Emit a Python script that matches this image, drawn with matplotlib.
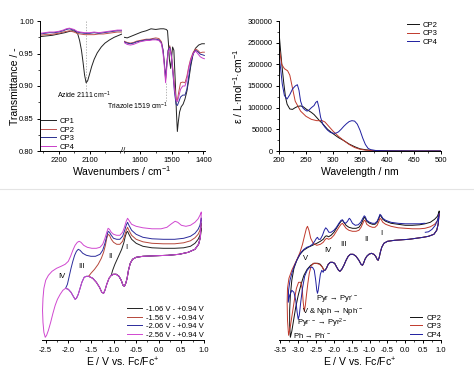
import matplotlib
matplotlib.use("Agg")
import matplotlib.pyplot as plt
from matplotlib.ticker import MultipleLocator
from matplotlib.lines import Line2D

plt.rcParams['font.family'] = ['Liberation Sans', 'DejaVu Sans']
plt.rcParams['mathtext.default'] = 'regular'
plt.rcParams['axes.linewidth'] = 0.7
plt.rcParams['xtick.major.width'] = 0.7
plt.rcParams['ytick.major.width'] = 0.7
plt.rcParams['xtick.minor.width'] = 0.5
plt.rcParams['ytick.minor.width'] = 0.5
plt.rcParams['xtick.major.size'] = 2.5
plt.rcParams['ytick.major.size'] = 2.5
plt.rcParams['xtick.minor.size'] = 1.5
plt.rcParams['ytick.minor.size'] = 1.5
plt.rcParams['xtick.labelsize'] = 5.5
plt.rcParams['ytick.labelsize'] = 5.5
plt.rcParams['xtick.major.pad'] = 2
plt.rcParams['ytick.major.pad'] = 2

# ---------------- IR data (transmittance) ----------------
ir_left_wn_cp1 = [2260, 2240, 2220, 2200, 2180, 2165, 2155, 2145, 2138, 2132, 2126, 2121, 2116, 2111,
                  2106, 2100, 2093, 2085, 2075, 2062, 2050, 2035, 2020, 2005, 1995]
ir_left_cp1 = [0.976, 0.977, 0.978, 0.980, 0.982, 0.984, 0.985, 0.984, 0.980, 0.970, 0.955, 0.937, 0.917, 0.905,
               0.908, 0.918, 0.930, 0.941, 0.951, 0.960, 0.966, 0.971, 0.975, 0.978, 0.980]

ir_left_wn = [2260, 2245, 2230, 2215, 2200, 2185, 2175, 2165, 2158, 2150, 2140, 2130, 2115, 2100,
              2085, 2070, 2055, 2040, 2025, 2010, 1995]
ir_left_cp2 = [0.978, 0.979, 0.979, 0.980, 0.981, 0.983, 0.984, 0.985, 0.984, 0.983, 0.981, 0.980, 0.979, 0.979,
               0.979, 0.980, 0.980, 0.981, 0.982, 0.983, 0.983]
ir_left_cp3 = [0.980, 0.981, 0.982, 0.982, 0.983, 0.985, 0.987, 0.988, 0.987, 0.986, 0.983, 0.982, 0.981, 0.981,
               0.982, 0.981, 0.982, 0.983, 0.984, 0.985, 0.985]
ir_left_cp4 = [0.981, 0.982, 0.983, 0.983, 0.984, 0.986, 0.988, 0.989, 0.988, 0.987, 0.984, 0.983, 0.982, 0.982,
               0.983, 0.982, 0.983, 0.984, 0.985, 0.986, 0.986]

ir_right_wn_cp1 = [1650, 1640, 1625, 1610, 1595, 1580, 1565, 1550, 1535, 1525, 1517, 1513, 1510, 1507, 1503,
                   1500, 1497, 1493, 1488, 1485, 1482, 1479, 1475, 1470, 1464, 1458, 1452, 1446, 1440, 1433,
                   1425, 1415, 1405, 1397]
ir_right_cp1 = [0.975, 0.974, 0.977, 0.980, 0.983, 0.985, 0.988, 0.987, 0.988, 0.988, 0.987, 0.985, 0.965, 0.940,
                0.927, 0.945, 0.960, 0.955, 0.900, 0.860, 0.830, 0.845, 0.860, 0.868, 0.872, 0.880, 0.892, 0.910,
                0.930, 0.948, 0.958, 0.963, 0.965, 0.965]

ir_right_wn = [1650, 1640, 1630, 1620, 1610, 1600, 1590, 1580, 1570, 1560, 1550, 1540, 1532, 1527, 1523, 1519,
               1515, 1511, 1506, 1501, 1496, 1491, 1486, 1482, 1478, 1472, 1465, 1458, 1452, 1446, 1440, 1432,
               1425, 1418, 1410, 1403, 1397]
ir_right_cp2 = [0.969, 0.967, 0.966, 0.967, 0.969, 0.970, 0.971, 0.972, 0.972, 0.973, 0.974, 0.973, 0.968, 0.955,
                0.935, 0.910, 0.935, 0.955, 0.962, 0.950, 0.925, 0.900, 0.880, 0.878, 0.890, 0.905, 0.906, 0.905,
                0.915, 0.930, 0.942, 0.952, 0.957, 0.955, 0.951, 0.952, 0.952]
ir_right_cp3 = [0.968, 0.966, 0.965, 0.966, 0.968, 0.969, 0.970, 0.971, 0.971, 0.972, 0.972, 0.971, 0.966, 0.955,
                0.935, 0.912, 0.935, 0.955, 0.960, 0.948, 0.920, 0.890, 0.872, 0.870, 0.875, 0.883, 0.886, 0.886,
                0.895, 0.915, 0.935, 0.950, 0.955, 0.953, 0.949, 0.948, 0.947]
ir_right_cp4 = [0.967, 0.964, 0.963, 0.964, 0.966, 0.968, 0.969, 0.970, 0.970, 0.971, 0.971, 0.970, 0.965, 0.950,
                0.930, 0.905, 0.930, 0.952, 0.958, 0.946, 0.922, 0.895, 0.878, 0.876, 0.883, 0.895, 0.900, 0.900,
                0.910, 0.928, 0.940, 0.950, 0.954, 0.950, 0.945, 0.943, 0.942]

# ---------------- UV-Vis data ----------------
uv_wl_cp2 = [200, 203, 206, 209, 212, 215, 220, 225, 230, 235, 240, 245, 250, 255, 260, 265, 270, 275, 280,
             285, 290, 300, 310, 320, 330, 340, 350, 360, 370, 380, 400, 450, 500]
uv_cp2 = [275000, 230000, 190000, 155000, 125000, 108000, 97000, 96000, 100000, 103000, 104000, 102000, 97000,
          93000, 89000, 84000, 77000, 70000, 64000, 57000, 50000, 40000, 31000, 24000, 16000, 10000, 5000, 3000,
          1500, 1000, 500, 0, 0]
uv_wl_cp3 = [200, 205, 210, 216, 220, 225, 230, 240, 250, 260, 270, 280, 285, 290, 300, 310, 320, 330, 340,
             350, 360, 380, 400, 500]
uv_cp3 = [240000, 200000, 190000, 185000, 175000, 145000, 115000, 92000, 80000, 73000, 70000, 70000, 67000,
          60000, 46000, 34000, 24000, 15000, 8000, 4000, 2000, 500, 0, 0]
uv_wl_cp4 = [200, 203, 206, 210, 215, 220, 225, 230, 234, 237, 240, 244, 248, 252, 256, 260, 265, 268, 271,
             274, 277, 281, 285, 290, 295, 300, 305, 310, 315, 320, 325, 330, 335, 340, 345, 350, 355, 360,
             365, 370, 380, 400, 450, 500]
uv_cp4 = [222000, 190000, 155000, 128000, 120000, 130000, 143000, 150000, 153000, 140000, 115000, 100000, 95000,
          92000, 95000, 100000, 105000, 112000, 115000, 100000, 78000, 62000, 55000, 48000, 43000, 41000, 41000,
          44000, 50000, 57000, 63000, 68000, 70000, 69000, 62000, 48000, 30000, 15000, 6000, 3000, 1000, 300,
          0, 0]

# ---------------- CV data, left panel (current in arbitrary units) ----------------
cvl_tip_I = [112, 117, 122, 128]          # right vertex for the four scans
cvl_lower_E = [0.92, 0.88, 0.80, 0.65, 0.45, 0.20, -0.10, -0.35, -0.50, -0.58, -0.63, -0.67, -0.70, -0.73,
               -0.76, -0.79, -0.83, -0.88, -0.94, -1.00, -1.05,
               -1.10, -1.15, -1.19, -1.22, -1.26, -1.31, -1.38, -1.46, -1.55,
               -1.60, -1.65, -1.70, -1.74, -1.78, -1.82, -1.85, -1.89, -1.94, -2.00, -2.06,
               -2.12, -2.18, -2.24, -2.29, -2.34, -2.39, -2.44, -2.48, -2.51]
cvl_lower_I = [103, 96, 91, 88, 86, 85, 84.5, 84, 83, 81, 77, 70, 62, 57,
               54, 55, 60, 64, 66, 66, 65,
               62, 56, 50, 47, 48, 53, 58, 62, 64,
               64, 63, 58, 52, 46, 42, 41, 44, 48, 51, 52,
               50, 46, 41, 35, 27, 18, 10, 5, 3]
cvl_vertex_n = [21, 30, 41, 50]           # points of the shared cathodic sweep used by each scan

cvl_up1_E = [-1.02, -0.97, -0.92, -0.87, -0.82, -0.77, -0.74, -0.71, -0.69, -0.66, -0.60, -0.50, -0.35, -0.15,
             0.10, 0.35, 0.55, 0.70, 0.80, 0.87, 0.91, 0.94]
cvl_up1_I = [70, 76, 81, 86, 91, 98, 104, 108, 109, 106, 101, 97, 94, 92.5,
             92, 92, 92.5, 94, 97, 101, 105, 112]
cvl_up2_E = [-1.50, -1.42, -1.34, -1.27, -1.22, -1.18, -1.15, -1.12, -1.09, -1.05, -1.00, -0.93, -0.86, -0.80,
             -0.76, -0.72, -0.69, -0.66, -0.60, -0.50, -0.35, -0.15, 0.10, 0.35, 0.55, 0.70, 0.80, 0.87, 0.91,
             0.94]
cvl_up2_I = [67, 71, 76, 82, 88, 95, 102, 106, 105, 101, 98, 96, 96, 99,
             104, 110, 113, 110, 105, 101, 98.5, 97, 96.5, 96.5, 97.5, 99.5, 102.5, 106, 110,
             117]
cvl_up3_E = [-2.02, -1.98, -1.94, -1.90, -1.86, -1.82, -1.78, -1.74, -1.68, -1.60, -1.50, -1.40, -1.30, -1.24,
             -1.19, -1.15, -1.12, -1.09, -1.05, -1.00, -0.93, -0.86, -0.80, -0.76, -0.72, -0.69, -0.66, -0.60,
             -0.50, -0.35, -0.15, 0.10, 0.35, 0.55, 0.70, 0.80, 0.87, 0.91, 0.94]
cvl_up3_I = [56, 64, 72, 79, 85, 89, 91, 90, 87, 85, 84, 84, 86, 90,
             97, 104, 109, 108, 105, 102, 101, 101, 104, 109, 115, 118, 115, 110,
             106, 103, 101.5, 101, 101, 102, 104, 107, 111, 115, 122]
cvl_up4_E = [-2.54, -2.56, -2.57, -2.56, -2.54, -2.50, -2.44, -2.36, -2.26, -2.16, -2.07, -2.00, -1.95, -1.90,
             -1.85, -1.80, -1.76, -1.72, -1.66, -1.58, -1.48, -1.38, -1.30, -1.24, -1.19, -1.15, -1.12, -1.09,
             -1.05, -1.00, -0.93, -0.86, -0.80, -0.76, -0.72, -0.69, -0.66, -0.60, -0.50, -0.35, -0.15, 0.05,
             0.18, 0.28, 0.36, 0.42, 0.50, 0.60, 0.70, 0.80, 0.87, 0.91, 0.94]
cvl_up4_I = [8, 18, 30, 42, 52, 60, 65, 69, 72, 74, 76, 79, 84, 90,
             95, 98, 99, 98, 95, 93, 92, 92, 93, 96, 102, 108, 112, 111,
             108, 106, 105, 105, 108, 113, 119, 122, 120, 116, 114, 112.5, 111.5, 111.5,
             113, 116.5, 119, 118, 115, 114, 115, 118, 121.5, 125, 128]
cvl_labels = ["-1.06 V - +0.94 V", "-1.56 V - +0.94 V", "-2.06 V - +0.94 V", "-2.56 V - +0.94 V"]

# ---------------- CV data, right panel ----------------
cvr_lower_E = [0.92, 0.88, 0.80, 0.65, 0.50, 0.30, 0.10, -0.10, -0.30, -0.50, -0.60, -0.66, -0.70, -0.73,
               -0.76, -0.79, -0.83, -0.88, -0.95, -1.02, -1.08, -1.13, -1.17, -1.20, -1.24, -1.30, -1.38,
               -1.46, -1.54, -1.60, -1.66, -1.72, -1.78, -1.83, -1.87, -1.92, -1.98, -2.04, -2.10, -2.16,
               -2.21, -2.25, -2.28]
cvr_lower_I = [116, 110, 106, 104, 103, 102, 101, 100.5, 100, 99, 97, 93, 88, 83,
               80, 81, 84, 86, 87, 86, 84, 81, 77, 75, 76, 80, 84,
               86, 86, 84, 80, 75, 71, 69, 70, 73, 77, 78, 78, 76,
               72, 70, 70]

cp2_tail_E = [-2.32, -2.38, -2.45, -2.55, -2.65, -2.75, -2.84, -2.92, -3.00, -3.07, -3.13, -3.18, -3.22,
              -3.24, -3.24, -3.22, -3.18, -3.12, -3.04, -2.95, -2.85, -2.72, -2.60, -2.48, -2.38, -2.30,
              -2.24, -2.20, -2.15, -2.08, -2.00, -1.93, -1.86, -1.80, -1.76, -1.72, -1.66, -1.58, -1.48,
              -1.38, -1.30, -1.24, -1.19, -1.15, -1.12, -1.08, -1.00, -0.92, -0.85, -0.79, -0.74, -0.71,
              -0.68, -0.63, -0.55, -0.40, -0.20, 0.00, 0.20, 0.40, 0.55, 0.70, 0.82, 0.90, 0.95]
cp2_tail_I = [73, 76, 77, 77, 75, 71, 65, 56, 45, 33, 20, 9, 3,
              15, 30, 45, 60, 72, 80, 86, 90, 93, 95, 97, 99, 101,
              104, 104.5, 103.5, 105, 108, 112, 116, 119, 120, 118, 115, 113, 112,
              112, 113, 116, 120, 123, 122, 119, 117, 116, 116, 118, 122, 125,
              124, 121, 119, 117, 116, 115, 115, 115.5, 116.5, 118, 121, 124, 129]

cp3_tail_E = [-2.32, -2.40, -2.50, -2.58, -2.64, -2.69, -2.73, -2.77, -2.80, -2.83, -2.86, -2.89, -2.93,
              -2.99, -3.05, -3.10, -3.16, -3.22, -3.27,
              -3.30, -3.31, -3.30, -3.26, -3.18, -3.10, -3.02, -2.95, -2.88, -2.82, -2.77, -2.74, -2.70,
              -2.65, -2.58, -2.48, -2.38, -2.30, -2.24, -2.20, -2.15, -2.08, -2.00, -1.93, -1.86, -1.80,
              -1.76, -1.72, -1.66, -1.58, -1.48, -1.38, -1.30, -1.24, -1.19, -1.15, -1.12, -1.08, -1.00,
              -0.92, -0.85, -0.79, -0.74, -0.71, -0.68, -0.63, -0.55, -0.40, -0.20, 0.00, 0.20, 0.40, 0.55,
              0.70, 0.82, 0.90, 0.95]
cp3_tail_I = [73, 76, 77, 77, 74, 67, 57, 45, 35, 29, 38, 52, 58,
              58, 52, 42, 28, 14, 5,
              20, 38, 52, 62, 70, 76, 82, 88, 96, 105, 112, 114, 110,
              102, 97, 95, 96, 98, 101, 102, 101, 102, 105, 109, 113, 116,
              117, 115, 112, 110, 109, 109, 110, 113, 117, 120, 119.5, 116, 114,
              113, 113, 115, 119, 122, 121, 118, 116, 114, 112.5, 112, 111.5, 111.5, 112,
              113.5, 116, 119.5, 126]

cp4_start_E = [0.56, 0.65, 0.75, 0.84, 0.90, 0.95]
cp4_start_I = [108, 108.5, 111, 115, 120, 127]
cp4_tail_E = [-2.30, -2.34, -2.38, -2.41, -2.44, -2.46, -2.48, -2.51, -2.55, -2.60, -2.68, -2.75, -2.82,
              -2.88, -2.93, -2.97, -3.00, -3.03, -3.07, -3.12, -3.18, -3.24, -3.28,
              -3.27, -3.23, -3.17, -3.09, -3.00, -2.92, -2.84, -2.76, -2.68, -2.60, -2.54, -2.49, -2.46,
              -2.43, -2.38, -2.32, -2.27, -2.23, -2.19, -2.14, -2.08, -2.00, -1.93, -1.86, -1.80, -1.76,
              -1.72, -1.67, -1.62, -1.57, -1.54, -1.48, -1.40, -1.32, -1.25, -1.19, -1.15, -1.12, -1.08,
              -1.00, -0.92, -0.85, -0.79, -0.74, -0.71, -0.68, -0.63, -0.55, -0.40, -0.20, 0.00, 0.20, 0.40,
              0.52, 0.55]
cp4_tail_I = [68, 70, 66, 58, 50, 47, 50, 60, 70, 73, 73, 70, 64,
              52, 38, 25, 21, 28, 40, 48, 50, 45, 38,
              50, 60, 68, 76, 83, 88, 91, 93, 94, 96, 99, 102, 103,
              101, 101, 105, 110, 112.5, 111, 108, 108, 110, 113, 117, 120, 120.5,
              118, 117, 119, 122, 121, 117, 115, 115.5, 118, 122, 124.5, 123.5, 120,
              118, 117, 117, 119, 123, 126, 125, 122, 120, 118, 117, 116.5, 116.5, 116.5,
              117, 117]

# ---------------- figure ----------------
fig = plt.figure(figsize=(4.74, 3.72), dpi=100)
W, H = 474.0, 372.0


def ax_px(x0, x1, ytop, ybot):
    return fig.add_axes([x0 / W, 1 - ybot / H, (x1 - x0) / W, (ybot - ytop) / H])


LW = 0.7
LEG = dict(fontsize=5.5, frameon=False, handlelength=2.0, handletextpad=0.5, labelspacing=0.15,
           borderpad=0.2, borderaxespad=0.2)

# IR: broken x axis made of two axes
ir_cols = ['#222222', '#c0504d', '#2a2f8f', '#c83fc8']
ax1 = ax_px(40, 122, 21, 151)
ax2 = ax_px(124, 205, 21, 151)
ax1.plot(ir_left_wn_cp1, ir_left_cp1, color=ir_cols[0], lw=LW)
ax1.plot(ir_left_wn, ir_left_cp2, color=ir_cols[1], lw=LW)
ax1.plot(ir_left_wn, ir_left_cp3, color=ir_cols[2], lw=LW)
ax1.plot(ir_left_wn, ir_left_cp4, color=ir_cols[3], lw=LW)
ax2.plot(ir_right_wn_cp1, ir_right_cp1, color=ir_cols[0], lw=LW)
ax2.plot(ir_right_wn, ir_right_cp2, color=ir_cols[1], lw=LW)
ax2.plot(ir_right_wn, ir_right_cp3, color=ir_cols[2], lw=LW)
ax2.plot(ir_right_wn, ir_right_cp4, color=ir_cols[3], lw=LW)
for a in (ax1, ax2):
    a.set_ylim(0.80, 1.00)
    a.spines['top'].set_visible(False)
    a.spines['right'].set_visible(False)
    a.xaxis.set_minor_locator(MultipleLocator(50))
ax1.set_xlim(2260, 1995)
ax2.set_xlim(1650, 1395)
ax1.set_xticks([2200, 2100])
ax2.set_xticks([1600, 1500, 1400])
ax1.yaxis.set_minor_locator(MultipleLocator(0.025))
ax1.set_yticks([0.80, 0.85, 0.90, 0.95, 1.00])
ax1.set_yticklabels(['0.80', '0.85', '0.90', '0.95', '1.00'])
ax2.spines['left'].set_visible(False)
ax2.set_yticks([])
ax1.set_ylabel('Transmittance / -', fontsize=7.5)
ax1.yaxis.set_label_coords(-0.24, 0.5)
fig.text(122 / W, 1 - 171 / H, 'Wavenumbers / cm$^{-1}$', fontsize=7.5, ha='center', va='center')
fig.text(123 / W, 1 - 151 / H, '//', fontsize=5.5, ha='center', va='center')
ax1.plot([2111, 2111], [1.0, 0.893], ls=(0, (2, 2)), color='#999999', lw=0.5, zorder=0)
ax2.plot([1519, 1519], [0.905, 0.875], ls=(0, (2, 2)), color='#999999', lw=0.5, zorder=0)
ax1.text(2118, 0.886, 'Azide 2111 cm$^{-1}$', fontsize=5, ha='center', va='center')
ax2.text(1512, 0.869, 'Triazole 1519 cm$^{-1}$', fontsize=5, ha='right', va='center', clip_on=False)
ir_handles = [Line2D([], [], color=c, lw=LW) for c in ir_cols]
ax1.legend(ir_handles, ['CP1', 'CP2', 'CP3', 'CP4'], loc='lower left', bbox_to_anchor=(-0.03, -0.02), **LEG)

# UV-Vis
ax3 = ax_px(279, 441, 21, 151)
uv_cols = ['#111111', '#c0392b', '#1f1fa0']
ax3.plot(uv_wl_cp2, uv_cp2, color=uv_cols[0], lw=LW, label='CP2')
ax3.plot(uv_wl_cp3, uv_cp3, color=uv_cols[1], lw=LW, label='CP3')
ax3.plot(uv_wl_cp4, uv_cp4, color=uv_cols[2], lw=LW, label='CP4')
ax3.set_xlim(200, 500)
ax3.set_ylim(0, 300000)
ax3.xaxis.set_major_locator(MultipleLocator(50))
ax3.xaxis.set_minor_locator(MultipleLocator(25))
ax3.yaxis.set_major_locator(MultipleLocator(50000))
ax3.yaxis.set_minor_locator(MultipleLocator(25000))
ax3.spines['top'].set_visible(False)
ax3.spines['right'].set_visible(False)
ax3.set_xlabel('Wavelength / nm', fontsize=7.5, labelpad=2)
ax3.set_ylabel('ε / L·mol$^{-1}$·cm$^{-1}$', fontsize=7.5, labelpad=2)
ax3.legend(loc='upper right', bbox_to_anchor=(1.0, 1.02), **dict(LEG, handlelength=1.6))

# separator
fig.add_artist(Line2D([0, 1], [1 - 189 / H, 1 - 189 / H], color='#e4e4e4', lw=0.8))

# CV left
ax4 = ax_px(42.3, 204, 205, 340.3)
cvl_cols = ['#222222', '#b5473a', '#2b2b9b', '#d048d0']
cvl_up_E = [cvl_up1_E, cvl_up2_E, cvl_up3_E, cvl_up4_E]
cvl_up_I = [cvl_up1_I, cvl_up2_I, cvl_up3_I, cvl_up4_I]
for k in range(4):
    n = cvl_vertex_n[k]
    E = [0.94] + cvl_lower_E[:n] + cvl_up_E[k]
    I = [cvl_tip_I[k]] + cvl_lower_I[:n] + cvl_up_I[k]
    ax4.plot(E, I, color=cvl_cols[k], lw=LW, label=cvl_labels[k])
ax4.set_xlim(-2.575, 1.0)
ax4.set_ylim(0, 135.3)
ax4.xaxis.set_minor_locator(MultipleLocator(0.25))
ax4.set_xticks([-2.5, -2.0, -1.5, -1.0, -0.5, 0.0, 0.5, 1.0])
ax4.set_xticklabels(['-2.5', '-2.0', '-1.5', '-1.0', '-0.5', '0.0', '0.5', '1.0'])
for s in ('top', 'right', 'left'):
    ax4.spines[s].set_visible(False)
ax4.set_yticks([])
ax4.set_xlabel('E / V vs. Fc/Fc$^{+}$', fontsize=7.5, labelpad=1.5)
ax4.legend(loc='lower right', bbox_to_anchor=(1.02, -0.01), **LEG)
for txt, x, y in [('IV', 61.7, 276), ('III', 81.7, 266), ('II', 110, 256), ('I', 126.7, 247.7)]:
    fig.text(x / W, 1 - y / H, txt, fontsize=5.5, ha='center', va='center')

# CV right
ax5 = ax_px(279.3, 441, 205, 340.3)
cvr_cols = ['#111111', '#c0392b', '#1f1fa0']
E = [0.95] + cvr_lower_E + cp2_tail_E
I = [129] + cvr_lower_I + cp2_tail_I
ax5.plot(E, I, color=cvr_cols[0], lw=LW, label='CP2')
E = [0.95] + cvr_lower_E + cp3_tail_E
I = [126] + cvr_lower_I + cp3_tail_I
ax5.plot(E, I, color=cvr_cols[1], lw=LW, label='CP3')
E = cp4_start_E + cvr_lower_E + cp4_tail_E
I = cp4_start_I + cvr_lower_I + cp4_tail_I
ax5.plot(E, I, color=cvr_cols[2], lw=LW, label='CP4')
ax5.set_xlim(-3.53, 1.0)
ax5.set_ylim(0, 135.3)
ax5.set_xticks([-3.5, -3.0, -2.5, -2.0, -1.5, -1.0, -0.5, 0.0, 0.5, 1.0])
ax5.set_xticklabels(['-3.5', '-3.0', '-2.5', '-2.0', '-1.5', '-1.0', '-0.5', '0.0', '0.5', '1.0'])
ax5.xaxis.set_minor_locator(MultipleLocator(0.25))
for s in ('top', 'right', 'left'):
    ax5.spines[s].set_visible(False)
ax5.set_yticks([])
ax5.set_xlabel('E / V vs. Fc/Fc$^{+}$', fontsize=7.5, labelpad=1.5)
ax5.legend(loc='lower right', bbox_to_anchor=(1.02, -0.01), **dict(LEG, handlelength=1.6))
for txt, x, y in [('I', 381, 233.7), ('II', 366.3, 239.3), ('III', 343, 244.3), ('IV', 327.7, 250),
                  ('V', 306, 258.7)]:
    fig.text(x / W, 1 - y / H, txt, fontsize=5.5, ha='center', va='center')
for txt, x, y in [('Pyr → Pyr$^{\\bullet-}$', 316, 298), ('V & Nph → Nph$^{\\bullet-}$', 302, 311.3),
                  ('Pyr$^{\\bullet-}$ → Pyr$^{2-}$', 297, 323.3), ('Ph → Ph$^{\\bullet-}$', 293, 336)]:
    fig.text(x / W, 1 - y / H, txt, fontsize=5.5, ha='left', va='center')

fig.savefig('out.png', dpi=100)
